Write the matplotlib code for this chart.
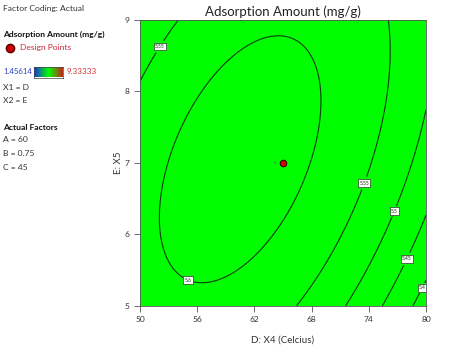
import numpy as np
import matplotlib
matplotlib.use("Agg")
import matplotlib.pyplot as plt
from matplotlib.colors import LinearSegmentedColormap

plt.rcParams['font.family'] = ['Lato', 'DejaVu Sans']

# ---- data (response surface model in coded units) ----
model_terms = ["b0", "D", "E", "DE", "D2", "E2"]
model_coefs = [5.6126, -0.0507, 0.0171, 0.051, -0.0824, -0.0353]
d_range = [50, 80]          # X4 (Celcius)
e_range = [5, 9]            # X5
contour_levels = [5.4, 5.45, 5.5, 5.55, 5.6]
design_points_d = [65]
design_points_e = [7]
resp_min, resp_max = 1.45614, 9.33333
x_ticks = [50, 56, 62, 68, 74, 80]
y_ticks = [5, 6, 7, 8, 9]
actual_factors = ["A = 60", "B = 0.75", "C = 45"]

# ---- surface ----
D = np.linspace(d_range[0], d_range[1], 301)
E = np.linspace(e_range[0], e_range[1], 301)
DD, EE = np.meshgrid(D, E)
u = (DD - 65) / 15
v = (EE - 7) / 2
b0, bD, bE, bDE, bD2, bE2 = model_coefs
Z = b0 + bD * u + bE * v + bDE * u * v + bD2 * u**2 + bE2 * v**2

cmap = LinearSegmentedColormap.from_list(
    "de", [(0.1, 0.2, 0.85), (0.0, 1.0, 0.0), (0.75, 0.15, 0.1)])

fig = plt.figure(figsize=(4.74, 3.55), dpi=100)
ax = fig.add_axes([0.2954, 0.138, 0.6034, 0.806])

ax.contourf(DD, EE, Z, levels=np.linspace(resp_min, resp_max, 16), cmap=cmap,
            vmin=resp_min, vmax=resp_max)
cs = ax.contour(DD, EE, Z, levels=contour_levels, colors='#0a3a0a', linewidths=0.8)
label_pos = [(55.0, 5.35), (51.9, 8.64), (73.7, 6.71), (76.6, 6.33), (77.8, 5.67), (79.2, 5.28)]
texts = ax.clabel(cs, fmt=lambda x: f"{x:g}", manual=label_pos, inline=True,
                  inline_spacing=2, fontsize=3.5)
for t in texts:
    t.set_rotation(0)
    t.set_bbox(dict(boxstyle='square,pad=0.25', fc='white', ec='#333333', lw=0.5))

ax.scatter(design_points_d, design_points_e, s=22, c='#cc0000',
           edgecolors='#3a0000', linewidths=0.8, zorder=5)
ax.text(design_points_d[0] - 0.7, design_points_e[0], "6", fontsize=3,
        color='#555555', ha='right', va='center', zorder=5)

ax.set_xlim(d_range)
ax.set_ylim(e_range)
ax.set_xticks(x_ticks)
ax.set_yticks(y_ticks)
ax.tick_params(axis='both', labelsize=6, colors='#555555', labelcolor='#333333',
               length=4, width=0.6, direction='out')
for s in ax.spines.values():
    s.set_color('#555555')
    s.set_linewidth(0.6)

ax.set_title("Adsorption Amount (mg/g)", fontsize=9.5, color='#222222', pad=3)
ax.set_xlabel("D: X4 (Celcius)", fontsize=7, color='#333333', labelpad=9)
ax.set_ylabel("E: X5", fontsize=7, color='#333333', labelpad=1)

# ---- left legend panel ----
W, H = 474, 355
def ft(x, y, s, **kw):
    fig.text(x / W, 1 - y / H, s, va='center', ha='left', **kw)

fs = 6.1
ft(3, 8, "Factor Coding: Actual", fontsize=fs, color='#333333')
ft(3, 34, "Adsorption Amount (mg/g)", fontsize=fs, color='#111111', fontweight='bold')
fig.lines.append(plt.Line2D([10 / W], [1 - 47.5 / H], marker='o', markersize=6,
                            color='#cc0000', markeredgecolor='#5a0000',
                            transform=fig.transFigure))
ft(20, 47.5, "Design Points", fontsize=fs, color='#c8283c')
ft(3, 72, f"{resp_min:g}", fontsize=5.6, color='#2a3fc8')
cax = fig.add_axes([34 / W, 1 - 77.5 / H, 29 / W, 11 / H])
cax.imshow(np.linspace(0, 1, 100)[None, :], aspect='auto', cmap=cmap)
cax.set_xticks([]); cax.set_yticks([])
for s in cax.spines.values():
    s.set_linewidth(0.5)
    s.set_color('#444444')
ft(67, 72, f"{resp_max:g}", fontsize=5.8, color='#d03030')
ft(3, 87, "X1 = D", fontsize=fs, color='#333333')
ft(3, 100, "X2 = E", fontsize=fs, color='#333333')
ft(3, 127, "Actual Factors", fontsize=fs, color='#111111', fontweight='bold')
for i, s in enumerate(actual_factors):
    ft(3, 140 + 13.5 * i, s, fontsize=fs, color='#333333')

fig.savefig("out.png", dpi=100)
